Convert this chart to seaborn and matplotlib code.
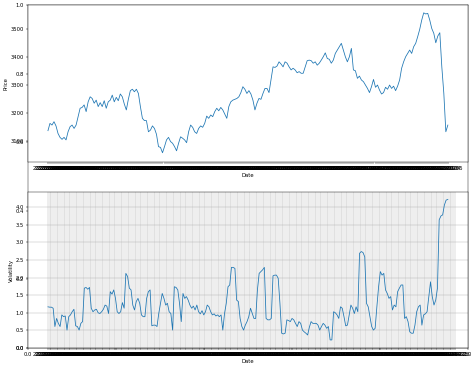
import numpy as np
import pandas as pd
import matplotlib
matplotlib.use('Agg')
import matplotlib.pyplot as plt
import seaborn as sns

# ------------------------------------------------------------
# Values
# ------------------------------------------------------------
price = [
    3137, 3163, 3157, 3169, 3154, 3127, 3113, 3106, 3113, 3104, 3133, 3151,
    3157, 3145, 3157, 3187, 3217, 3220, 3229, 3205, 3240, 3258, 3252, 3235,
    3246, 3223, 3237, 3223, 3244, 3217, 3240, 3246, 3264, 3240, 3256, 3244,
    3268, 3258, 3232, 3211, 3249, 3280, 3285, 3276, 3285, 3270, 3223, 3181,
    3173, 3173, 3133, 3139, 3154, 3145, 3124, 3080, 3077, 3058, 3080, 3104,
    3113, 3098,
    3092, 3080, 3065, 3092, 3115, 3110, 3104, 3094, 3133, 3157, 3149, 3133,
    3127, 3145, 3154, 3149, 3163, 3189, 3181, 3193, 3187, 3205, 3217, 3208,
    3220, 3211, 3196, 3181, 3223, 3240, 3246, 3249, 3252, 3258, 3273, 3294,
    3285, 3270, 3280, 3268, 3246, 3211, 3235, 3252, 3249, 3270, 3288, 3288,
    3273, 3318, 3365, 3363, 3368, 3383, 3375, 3365, 3383, 3378, 3365, 3354,
    3360, 3354, 3344, 3348, 3342, 3342, 3365, 3387,
    3389, 3387, 3378, 3383, 3371, 3378, 3389, 3401, 3415, 3395, 3392, 3378,
    3389, 3413, 3425, 3437, 3449, 3425, 3401, 3383, 3401, 3431, 3354, 3351,
    3324, 3332, 3318, 3312, 3300, 3288, 3273, 3294, 3320, 3292, 3300, 3282,
    3268, 3273, 3292, 3285, 3300, 3288, 3296, 3280, 3296, 3318, 3360, 3383,
    3401, 3413, 3425, 3413, 3437, 3449, 3473, 3499, 3532, 3558, 3554, 3556,
    3532, 3502, 3485, 3451, 3475, 3487, 3365, 3270, 3133, 3157,
]

volatility = [
    1.17, 1.16, 1.16, 1.13, 0.61, 0.84, 0.70, 0.61, 0.94, 0.89, 0.91, 0.51,
    0.89, 0.94, 1.03, 1.10, 0.63, 0.61, 0.51, 0.70, 0.75, 1.70, 1.72, 1.67,
    1.72, 1.13, 1.03, 1.08, 1.10, 1.00, 0.98, 1.03, 1.10, 1.22, 1.19, 0.98,
    1.60, 1.53, 1.65, 1.41, 1.03, 0.98, 1.03, 1.29, 1.13, 2.12, 2.03, 1.70,
    1.65, 1.22, 1.08, 1.32, 1.41, 1.27, 0.94, 0.89, 0.89, 1.41, 1.60, 1.65,
    0.63, 0.65, 0.65, 0.61, 0.98, 1.27, 1.55, 1.41, 1.22, 1.27, 1.03, 0.98,
    0.51,
    1.74, 1.72, 1.65, 1.27, 0.75, 1.55, 1.41, 1.46, 1.36, 1.22, 1.13, 1.19,
    1.08, 1.22, 1.03, 0.97, 1.06, 0.94, 1.03, 1.22, 1.17, 1.03, 0.94, 0.97,
    0.91, 0.94, 0.89, 0.94, 0.51, 0.98, 1.27, 1.74, 1.79, 2.29, 2.29, 2.26,
    1.36, 1.32, 0.84, 0.61, 0.51, 0.65, 0.75, 0.89, 1.13, 0.98, 0.84, 0.84,
    1.65, 2.12, 2.17, 2.22, 2.29, 0.84, 0.80, 0.80, 0.84, 2.05, 2.07, 2.07,
    1.98, 1.27, 0.42, 0.40, 0.42, 0.80, 0.78, 0.75, 0.84, 0.80, 0.70, 0.61,
    0.75, 0.70, 0.51, 0.46, 0.42, 0.37, 0.59, 0.75, 0.70, 0.70,
    0.70, 0.65, 0.51, 0.61, 0.70, 0.65, 0.56, 0.61, 0.23, 0.23, 1.03, 1.00,
    0.94, 0.84, 1.17, 1.13, 0.89, 0.63, 0.65, 0.94, 1.22, 1.13, 0.98, 1.17,
    1.03, 2.69, 2.74, 2.71, 2.59, 1.27, 1.17, 0.89, 0.61, 0.51, 0.56, 1.17,
    1.74, 2.17, 2.07, 2.12, 1.65, 1.55, 1.41, 1.46, 1.08, 1.22, 1.17, 1.60,
    1.70, 1.79, 1.79, 0.84, 0.89, 0.75, 0.46, 0.42, 0.42, 0.65, 1.03, 1.17,
    1.22, 0.65, 0.94, 0.97, 1.03, 1.46, 1.88, 1.46, 1.22, 1.36, 1.70, 3.64,
    3.75, 3.78, 4.06, 4.20, 4.22,
]

# trailing dates on the volatility axis that carry no value
n_extra = 4
dates = pd.bdate_range('2020-06-01', periods=len(volatility) + n_extra)
date_labels = list(dates.strftime('%Y-%m-%d'))

# ------------------------------------------------------------
# Figure: a stray 1x1 axes behind two stacked subplots
# ------------------------------------------------------------
DPI = 38
fig = plt.figure(figsize=(474 / DPI, 368 / DPI), dpi=DPI)
bg = fig.add_axes([0.059, 0.0543, 0.928, 0.932])
ax1 = fig.add_axes([0.059, 0.5598, 0.928, 0.4266])
ax2 = fig.add_axes([0.059, 0.0543, 0.928, 0.4239])

# price panel
df_p = pd.DataFrame({'Date': np.arange(len(price)), 'Price': price})
sns.lineplot(data=df_p, x='Date', y='Price', ax=ax1)
ax1.set_xticks(np.arange(len(price)))
ax1.set_xticklabels(date_labels[:len(price)])
n = len(price) - 1
ax1.set_xlim(-0.05 * n, 1.05 * n)
ax1.set_ylim(3025, 3586)

# volatility panel
df_v = pd.DataFrame({'Date': np.arange(len(volatility)), 'Volatility': volatility})
sns.lineplot(data=df_v, x='Date', y='Volatility', ax=ax2)
ax2.set_xticks(np.arange(len(date_labels)))
ax2.set_xticklabels(date_labels)
n = len(volatility) - 1
ax2.set_xlim(-0.05 * n, 1.05 * n)
ax2.set_ylim(0, 4.43)
ax2.grid(True)

fig.savefig('out.png', dpi=DPI)
